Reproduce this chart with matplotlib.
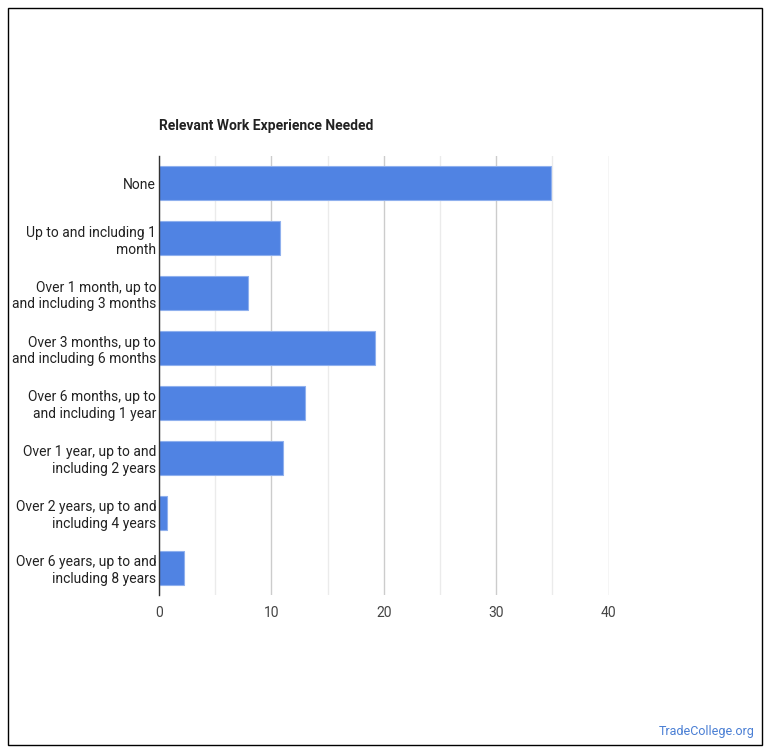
import matplotlib.pyplot as plt
from matplotlib.patches import Rectangle

categories = [
    "None",
    "Up to and including 1\nmonth",
    "Over 1 month, up to\nand including 3 months",
    "Over 3 months, up to\nand including 6 months",
    "Over 6 months, up to\nand including 1 year",
    "Over 1 year, up to and\nincluding 2 years",
    "Over 2 years, up to and\nincluding 4 years",
    "Over 6 years, up to and\nincluding 8 years",
]
values = [34.9, 10.8, 7.9, 19.2, 13.0, 11.0, 0.7, 2.2]
xticks = [0, 10, 20, 30, 40]

plt.rcParams['font.family'] = ['Roboto', 'DejaVu Sans']

fig = plt.figure(figsize=(7.7, 7.54), dpi=100)
ax = fig.add_axes([0.2065, 0.2109, 0.584, 0.5822])

pos = list(range(len(categories)))
ax.barh(pos, values, height=0.62, color="#5083e3", edgecolor="#8fb0ee", linewidth=0.8, zorder=3)
ax.set_ylim(len(categories) - 0.5, -0.5)
ax.set_xlim(0, 40)
ax.set_yticks(pos)
ax.set_yticklabels(categories, fontsize=10, color="#222222", linespacing=1.25)
ax.set_xticks(xticks)
ax.set_xticklabels([str(t) for t in xticks], fontsize=10, color="#444444")
ax.set_xticks([5, 15, 25, 35], minor=True)
ax.tick_params(axis='both', which='both', length=0)
ax.tick_params(axis='x', pad=8)
ax.tick_params(axis='y', pad=2)
ax.grid(axis='x', which='major', color="#cccccc", linewidth=1, zorder=0)
ax.grid(axis='x', which='minor', color="#ebebeb", linewidth=1, zorder=0)
for s in ['top', 'right', 'bottom']:
    ax.spines[s].set_visible(False)
ax.spines['left'].set_color("#333333")
ax.spines['left'].set_linewidth(1)
ax.spines['left'].set_zorder(4)

fig.text(159 / 770, 1 - 126 / 754, "Relevant Work Experience Needed", fontsize=10,
         fontweight='bold', color="#222222", va='center', ha='left')
fig.text(755 / 770, 1 - 731 / 754, "TradeCollege.org", fontsize=9, color="#4a7fd4", ha='right', va='center')

fig.patches.append(Rectangle((8 / 770, 9 / 754), 754 / 770, 737 / 754, transform=fig.transFigure,
                             fill=False, edgecolor="#000000", linewidth=1))

fig.savefig("out.png", dpi=100)
